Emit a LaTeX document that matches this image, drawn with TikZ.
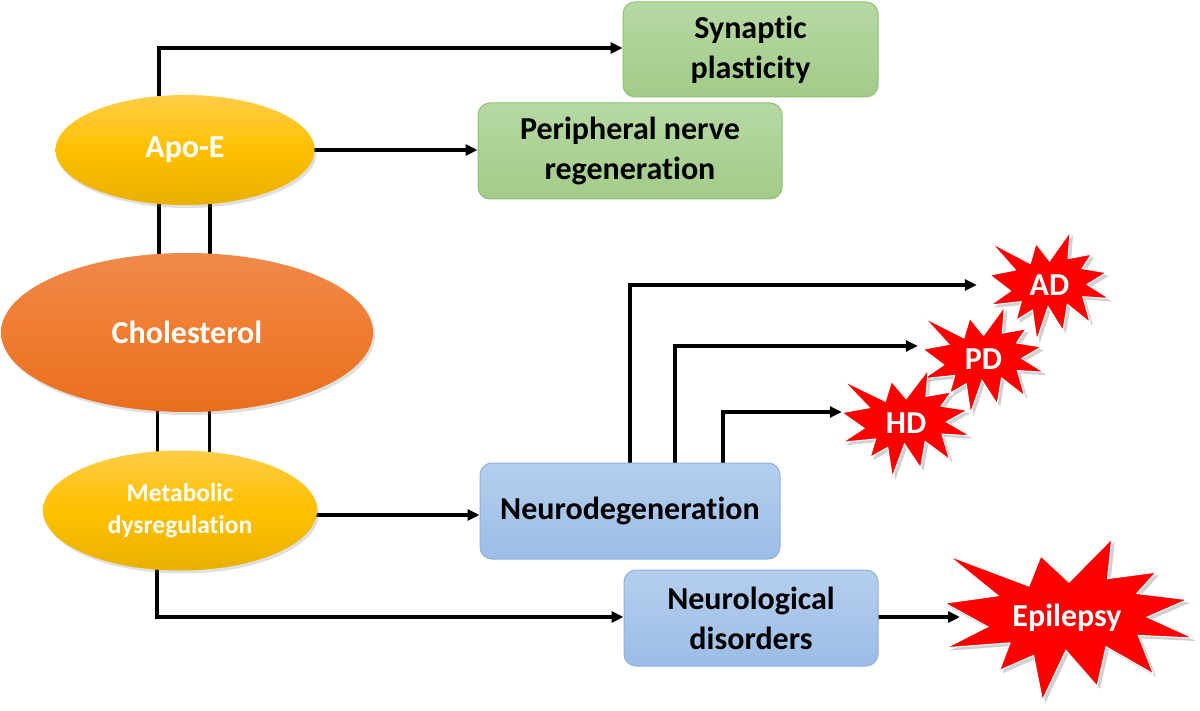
\documentclass[tikz,border=0pt]{standalone}
\usepackage{fontspec}
\setmainfont{Carlito}[RawFeature={-liga}]
\usetikzlibrary{arrows.meta,shapes.geometric,shadows,backgrounds}
\definecolor{apoTop}{HTML}{FFCD48}
\definecolor{apoMid}{HTML}{FFC000}
\definecolor{apoBot}{HTML}{E8B000}
\definecolor{chTop}{HTML}{F0894C}
\definecolor{chMid}{HTML}{F07C30}
\definecolor{chBot}{HTML}{E86F1E}
\definecolor{grTop}{HTML}{B6D9A3}
\definecolor{grBot}{HTML}{A2CB88}
\definecolor{grLine}{HTML}{8DC173}
\definecolor{blTop}{HTML}{B5CEEE}
\definecolor{blBot}{HTML}{9CBDE6}
\definecolor{blLine}{HTML}{8EB1DE}
\definecolor{starRed}{HTML}{FF0000}
\begin{document}
\begin{tikzpicture}[x=1pt,y=-1pt,
  bigfont/.style={font=\bfseries\fontsize{32}{40}\selectfont},
  ell/.style={ellipse, inner sep=0, text=white, align=center, bigfont,
    drop shadow={opacity=0.25, shadow xshift=2pt, shadow yshift=-3pt}},
  yellowell/.style={ell, top color=apoTop, bottom color=apoBot, middle color=apoMid},
  orangeell/.style={ell, top color=chTop, bottom color=chBot, middle color=chMid},
  box/.style={rectangle, rounded corners=12pt, line width=1pt, inner sep=0,
    align=center, bigfont, text=black},
  greenbox/.style={box, draw=grLine, top color=grTop, bottom color=grBot},
  bluebox/.style={box, draw=blLine, top color=blTop, bottom color=blBot},
  startxt/.style={inner sep=0, text=white, bigfont},
  arr/.style={line width=3.2pt, -{Triangle[length=12pt,width=11pt]}},
  conn/.style={line width=3.2pt},
  conn2/.style={line width=3pt},
  explosion/.pic={\path[pic actions] (108,58) -- (145.22,0) -- (141.55,53.25) -- (183.80,44.57)
    -- (167.02,73.15) -- (210.97,81.37) -- (176.07,104.75) -- (216,132.90)
    -- (168.37,129.42) -- (181.45,180.95) -- (140.20,144.57) -- (132.47,197.37)
    -- (105.32,149.35) -- (84.85,216) -- (77.15,156.27) -- (47.62,176.17)
    -- (56.67,139.37) -- (1.35,145.87) -- (37.22,117.75) -- (0,86.15)
    -- (46.27,76.17) -- (3.70,22.95) -- (73.12,63.20) -- (83.52,22.95) -- cycle;},
  shadowstar/.style={fill=black, opacity=0.18},
  redstar/.style={fill=starRed, draw=white, line width=1pt}
]
\useasboundingbox (0,0) rectangle (1200,711);

% ellipses
\node[yellowell, minimum width=259, minimum height=110] (apo) at (185,150) {Apo-E};
\node[orangeell, minimum width=372, minimum height=159] (chol) at (187,332.5) {Cholesterol};
\node[yellowell, minimum width=274, minimum height=120,
      font=\bfseries\fontsize{25.5}{32}\selectfont] (met) at (180,510.5) {Metabolic\\dysregulation};

% boxes
\node[greenbox, minimum width=255, minimum height=95] (syn) at (750.5,49.5) {Synaptic\\plasticity};
\node[greenbox, minimum width=304, minimum height=96] (per) at (630,151) {Peripheral nerve\\regeneration};
\node[bluebox, minimum width=300, minimum height=96] (nd) at (630,511) {Neurodegeneration};
\node[bluebox, minimum width=254, minimum height=96] (nl) at (751,618) {Neurological\\disorders};

% explosions
\pic[shadowstar, xscale=0.551, yscale=0.5] at (993,235) {explosion};
\pic[redstar, xscale=0.551, yscale=0.5] at (990,232) {explosion};
\pic[shadowstar, xscale=0.560, yscale=0.491] at (926,310) {explosion};
\pic[redstar, xscale=0.560, yscale=0.491] at (923,307) {explosion};
\pic[shadowstar, xscale=0.593, yscale=0.495] at (845,373) {explosion};
\pic[redstar, xscale=0.593, yscale=0.495] at (842,370) {explosion};
\pic[shadowstar, xscale=1.148, yscale=0.745] at (948,542) {explosion};
\pic[redstar, xscale=1.148, yscale=0.745] at (945,539) {explosion};

\node[startxt, minimum width=119, minimum height=108] (ad) at (1049.5,285) {AD};
\node[startxt, minimum width=121, minimum height=106] (pd) at (983.5,359) {PD};
\node[startxt, minimum width=128, minimum height=107] (hd) at (906,423) {HD};
\node[startxt, minimum width=248, minimum height=161] (ep) at (1067,618) {Epilepsy};

\coordinate (xa) at (159,0);
\coordinate (xb) at (210,0);
\coordinate (xc) at (157,0);
\coordinate (xd) at (209,0);

\begin{scope}[on background layer]
  \draw[arr] (apo.center -| xa) |- ([yshift=1.5pt]syn.west);
  \draw[arr] (apo.center) -- (apo.center -| per.west);
  \draw[conn] (apo.center -| xa) -- (chol.center -| xa);
  \draw[conn] (apo.center -| xb) -- (chol.center -| xb);
  \draw[conn2] (chol.center -| xc) -- (met.center -| xc);
  \draw[conn2] (chol.center -| xd) -- (met.center -| xd);
  \draw[arr] ([yshift=-4.5pt]met.center) -- ([yshift=-4.5pt]met.center -| nd.west);
  \draw[arr] (met.center -| xc) |- ([yshift=1pt]nl.west);
  \draw[arr] ([yshift=1pt]nl.center) -- ([yshift=1pt]nl.center -| {960,0});
  \draw[arr, shorten >=13pt] (nd.center) |- (ad.west);
  \draw[arr, shorten >=5pt] ([xshift=45pt]nd.center) |- ([yshift=13pt]pd.west);
  \draw[arr] ([xshift=93pt]nd.center) |- ([yshift=11pt]hd.west);
\end{scope}
\end{tikzpicture}
\end{document}
